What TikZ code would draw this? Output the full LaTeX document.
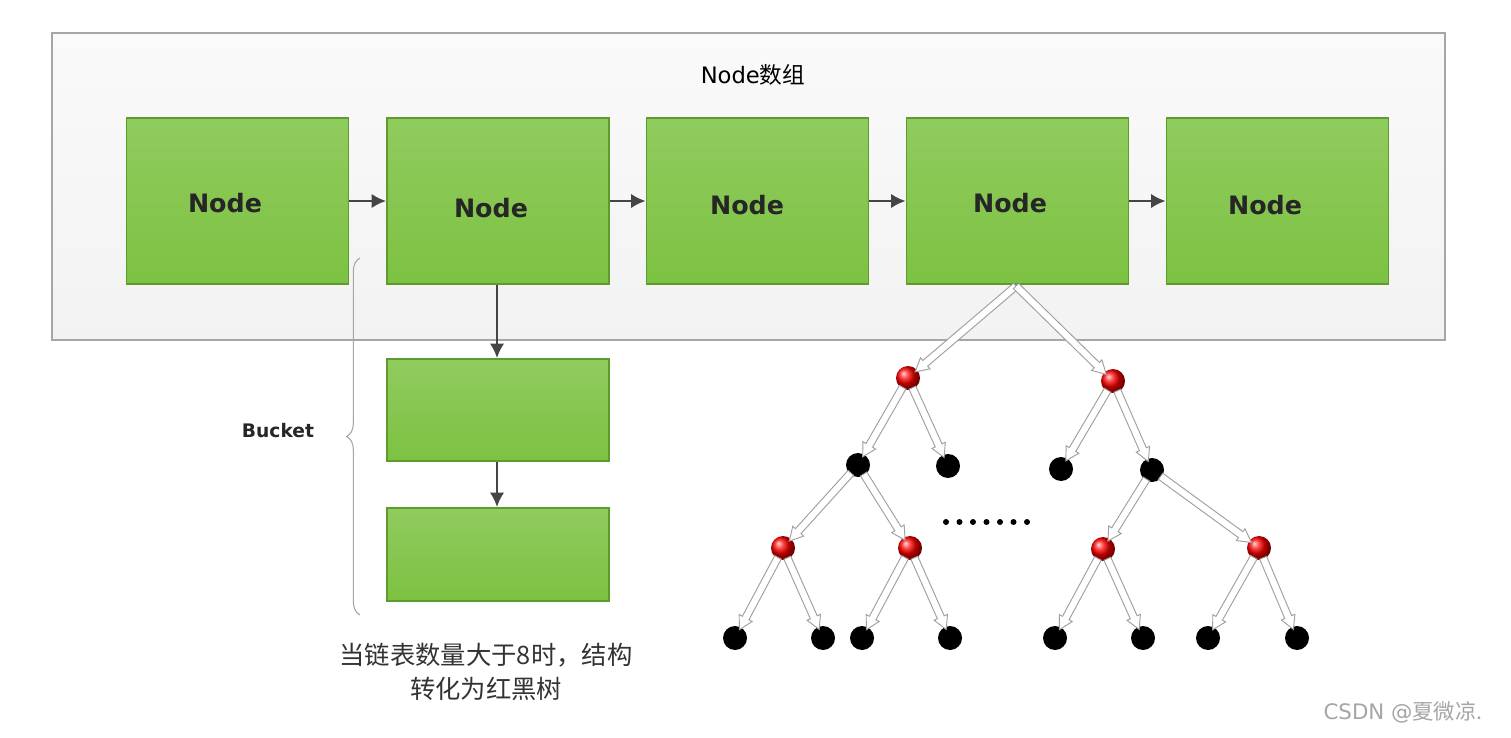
\documentclass[tikz,border=0pt]{standalone}
\usepackage{fontspec}
\setmainfont{DejaVu Sans}
\newfontfamily\cjk{Noto Sans CJK SC}
\usetikzlibrary{calc,decorations.pathreplacing,shadings,arrows.meta}
\definecolor{gfill}{HTML}{7DC242}
\definecolor{gline}{HTML}{5E9A2C}
\definecolor{darr}{HTML}{454545}
\tikzset{
  gbox/.style={draw=gline,line width=1.2pt,top color=gfill!85!white,bottom color=gfill,inner sep=0pt},
  lbl/.style={font=\fontsize{19}{19}\selectfont\bfseries,text=black!85},
  darrow/.style={-{Latex[length=11pt,width=11pt]},draw=darr,line width=2.2pt},
  rn/.style={circle,minimum size=18pt,inner sep=0pt,ball color=red,shading=ball},
  bn/.style={circle,minimum size=18pt,inner sep=0pt,fill=black},
  dot/.style={circle,fill=black,minimum size=4.5pt,inner sep=0pt},
}
\newcommand\hol[3][8pt]{\fill[white,draw=gray!75,line width=0.7pt]
  ($(#2)!#1!(#3)!2.8pt!90:(#3)$) -- ($(#3)!17pt!(#2)!2.8pt!-90:(#2)$) --
  ($(#3)!17pt!(#2)!5.5pt!-90:(#2)$) -- ($(#3)!7pt!(#2)$) --
  ($(#3)!17pt!(#2)!5.5pt!90:(#2)$) -- ($(#3)!17pt!(#2)!2.8pt!90:(#2)$) --
  ($(#2)!#1!(#3)!2.8pt!-90:(#3)$) -- cycle;}
\begin{document}
\begin{tikzpicture}[x=0.75pt,y=-0.75pt]
\fill[white] (0,0) rectangle (1511,738);
\useasboundingbox (0,0) rectangle (1511,738);
\node[draw=gray!70,line width=1.5pt,top color=gray!4,bottom color=gray!10,minimum width=1393*0.75pt,minimum height=307*0.75pt,inner sep=0pt] (outer) at (748.5,186.5) {};
\node[font=\fontsize{17}{17}\selectfont] (title) at (753,75) {Node{\cjk 数组}};
\foreach \n/\x in {1/237.5,2/498,3/757.5,4/1017.5,5/1277.5}{
  \node[gbox,minimum width=222*0.75pt,minimum height=166*0.75pt] (n\n) at (\x,201) {};
}
\node[lbl] at (225,203) {Node};
\node[lbl] at (491,208) {Node};
\node[lbl] at (747,205) {Node};
\node[lbl] at (1010,203) {Node};
\node[lbl] at (1265,205) {Node};
\foreach \a/\b in {1/2,2/3,3/4,4/5}{ \draw[darrow] (n\a.east) -- (n\b.west); }
\node[gbox,minimum width=222*0.75pt,minimum height=102*0.75pt] (b1) at (498,410) {};
\node[gbox,minimum width=222*0.75pt,minimum height=93*0.75pt] (b2) at (498,554.5) {};
\draw[darrow] ($(n2.south)+(-1,0)$) -- ($(b1.north)+(-1,0)$);
\draw[darrow] ($(b1.south)+(-1,0)$) -- ($(b2.north)+(-1,0)$);
\draw[gray!70,line width=0.8pt,decorate,decoration={brace,amplitude=10pt}] (360,615) -- (360,258);
\node[font=\fontsize{14}{14}\selectfont\bfseries,text=black!85] (bucket) at (278,431) {Bucket};
\node[font=\cjk\fontsize{19}{26}\selectfont,align=center,text=black!80] (note) at (486,672) {当链表数量大于8时，结构\\转化为红黑树};
\node[font=\fontsize{16}{16}\selectfont,text=gray!70] (wm) at (1403,712) {CSDN @{\cjk 夏微凉.}};
% tree
\coordinate (root) at (1016,286);
\foreach \nm/\x/\y in {r1/908/378,r2/1113/381,r3/783/548,r4/910/548,r5/1103/549,r6/1259/548}{\node[rn] (\nm) at (\x,\y) {};}
\foreach \nm/\x/\y in {k1/858/465,k2/948/466,k3/1061/469,k4/1152/470,l1/735/638,l2/823/638,l3/862/638,l4/950/638,l5/1055/638,l6/1143/638,l7/1208/638,l8/1297/638}{\node[bn] (\nm) at (\x,\y) {};}
\hol[0pt]{root}{r1}
\hol[0pt]{root}{r2}
\foreach \a/\b in {r1/k1,r1/k2,r2/k3,r2/k4,k1/r3,k1/r4,k4/r5,k4/r6,r3/l1,r3/l2,r4/l3,r4/l4,r5/l5,r5/l6,r6/l7,r6/l8}{\hol{\a}{\b}}
\foreach \i in {0,...,6}{\node[dot] (d\i) at (946+\i*13.5,522) {};}
\end{tikzpicture}
\end{document}
